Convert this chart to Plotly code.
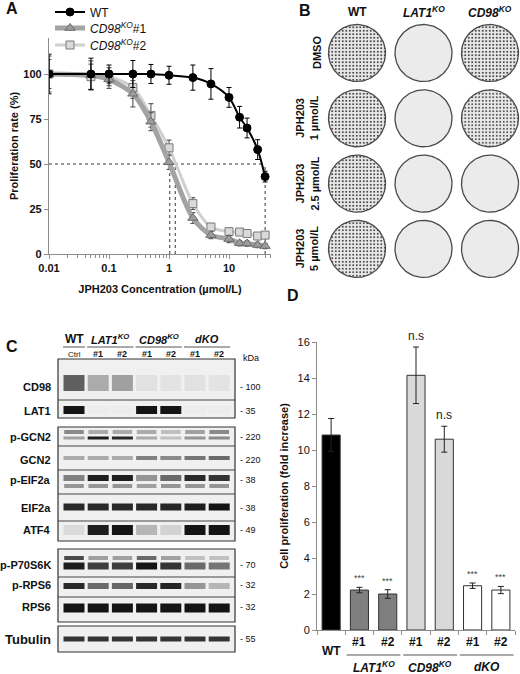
import numpy as np
import plotly.graph_objects as go

FONT = "Liberation Sans, Arial, sans-serif"
W, H = 520, 674

# ---- panel A : dose response ----
conc = [0.01, 0.05, 0.1, 0.25, 0.5, 1, 2.5, 5, 10, 15, 20, 30, 40]
wt_mean = [100, 100, 100, 100, 100, 99.3, 98, 94.5, 87, 76, 70, 58, 43]
wt_err = [11, 8.8, 5, 7.5, 5.3, 5, 7, 8.5, 5.5, 6, 5.5, 5.5, 3]
ko1_mean = [100, 99.3, 97, 89, 73.5, 51, 20, 10.5, 8.3, 6, 5.8, 5, 4.4]
ko1_err = [10, 8, 5, 7.3, 5, 4, 3, 2, 2, 1.5, 1.5, 1.5, 1.5]
ko2_mean = [100, 98.5, 98.5, 92.5, 77, 59, 28, 15, 12.4, 12.2, 11.4, 10, 10.5]
ko2_err = [8, 7, 5, 6, 6.5, 4.3, 3.3, 2, 2, 1.5, 1.5, 1.5, 1.5]
ic50 = [40, 1.03, 1.27]

# ---- panel B : colony plates ----
b_cols = ["WT", "LAT1", "CD98"]
b_rows = ["DMSO", "JPH203<br>1 µmol/L", "JPH203<br>2.5 µmol/L", "JPH203<br>5 µmol/L"]
b_density = [[1.0, 0.0, 1.0],
             [1.0, 0.0, 0.85],
             [1.0, 0.0, 0.0],
             [0.9, 0.0, 0.0]]

# ---- panel C : western blots ----
c_groups = ["WT", "LAT1", "CD98", "dKO"]
c_lanes = ["Ctrl", "#1", "#2", "#1", "#2", "#1", "#2"]
c_proteins = ["CD98", "LAT1", "p-GCN2", "GCN2", "p-EIF2a", "EIF2a", "ATF4",
              "p-P70S6K", "p-RPS6", "RPS6", "Tubulin"]
c_kda = ["100", "35", "220", "220", "38", "38", "49", "70", "32", "32", "55"]
c_band = [
    [0.65, 0.3, 0.35, 0.05, 0.04, 0.05, 0.04],   # CD98
    [1.0, 0.0, 0.0, 1.0, 1.0, 0.0, 0.0],         # LAT1
    [0.35, 0.95, 0.9, 0.3, 0.2, 0.4, 0.45],      # p-GCN2
    [0.3, 0.3, 0.3, 0.5, 0.45, 0.55, 0.6],       # GCN2
    [0.5, 0.95, 0.95, 0.4, 0.6, 0.9, 0.85],      # p-EIF2a
    [0.9, 0.9, 0.9, 0.9, 0.92, 0.95, 1.0],       # EIF2a
    [0.08, 0.95, 1.0, 0.25, 0.12, 1.0, 1.0],     # ATF4
    [0.95, 0.8, 0.8, 1.0, 0.85, 0.6, 0.55],      # p-P70S6K
    [0.9, 0.6, 0.62, 0.9, 0.92, 0.4, 0.25],      # p-RPS6
    [1.0, 1.0, 1.0, 1.0, 1.0, 1.0, 1.0],         # RPS6
    [0.85, 0.85, 0.85, 0.85, 0.85, 0.85, 0.85],  # Tubulin
]
c_band2 = {
    "p-GCN2": [0.45, 0.3, 0.3, 0.3, 0.2, 0.35, 0.45],
    "p-EIF2a": [0.4, 0.4, 0.4, 0.35, 0.4, 0.4, 0.4],
    "p-P70S6K": [0.75, 0.35, 0.35, 0.6, 0.35, 0.2, 0.2],
}

# ---- panel D : proliferation bars ----
d_labels = ["WT", "#1", "#2", "#1", "#2", "#1", "#2"]
d_mean = [10.83, 2.22, 2.0, 14.15, 10.6, 2.46, 2.22]
d_err = [0.92, 0.15, 0.24, 1.57, 0.72, 0.15, 0.2]
d_sig = ["", "***", "***", "n.s", "n.s", "***", "***"]
d_groups = ["LAT1", "CD98", "dKO"]


def px(x):
    return x / W


def py(y):
    return 1 - y / H


def ko(name):
    return "<b><i>%s<sup>KO</sup></i></b>" % name


annotations = []
shapes = []


def note(x, y, text, size=11, xref="paper", yref="paper", **kw):
    d = dict(x=x, y=y, xref=xref, yref=yref, text=text, showarrow=False,
             xanchor="center", yanchor="middle", font=dict(size=size))
    d.update(kw)
    annotations.append(d)


fig = go.Figure()
AX = "#8c8c8c"

# panel A traces
series = [
    ("WT", wt_mean, wt_err, "#000000", 2, "circle", 8, "#000000", "#000000"),
    ("<i>CD98<sup>KO</sup></i>#1", ko1_mean, ko1_err, "#a3a3a3", 5, "triangle-up", 9, "#9c9c9c", "#6a6a6a"),
    ("<i>CD98<sup>KO</sup></i>#2", ko2_mean, ko2_err, "#d0d0d0", 3, "square", 8, "#d9d9d9", "#7a7a7a"),
]
legends = ["legend", "legend2", "legend3"]
# dashed guides first so they sit below
fig.add_trace(go.Scatter(x=[conc[0], ic50[0]], y=[50, 50], mode="lines",
                         line=dict(color="#333", width=1, dash="dot"),
                         showlegend=False, hoverinfo="skip"))
for v in ic50:
    fig.add_trace(go.Scatter(x=[v, v], y=[0, 50], mode="lines",
                             line=dict(color="#333", width=1, dash="dot"),
                             showlegend=False, hoverinfo="skip"))
for k in reversed(range(len(series))):
    name, m, e, lc, lw, sym, sz, fc, oc = series[k]
    fig.add_trace(go.Scatter(
        x=conc, y=m, name=name, mode="lines+markers", legend=legends[k],
        line=dict(color=lc, width=lw, shape="spline", smoothing=0.8),
        marker=dict(symbol=sym, size=sz, color=fc, line=dict(color=oc, width=1)),
        error_y=dict(type="data", array=e, color="#444" if sym != "circle" else "#000",
                     thickness=1, width=2.5),
    ))

# panel B plates
theta = np.linspace(0, 2 * np.pi, 90)
R = 28.5
for i, row in enumerate(b_rows):
    for j, col in enumerate(b_cols):
        cx = 357 + 66.5 * j
        cy = 53 + 65.3 * i
        d = b_density[i][j]
        kw = dict(fill="toself", fillcolor="#ebebeb")
        if d > 0:
            kw = dict(fill="toself",
                      fillpattern=dict(shape=".", size=3.5, solidity=0.24 * d,
                                       fgcolor="#262626", bgcolor="#e8e8e8",
                                       fillmode="replace"))
        fig.add_trace(go.Scatter(
            x=cx + R * np.cos(theta), y=cy + R * np.sin(theta),
            mode="lines", line=dict(color="#4a4a4a", width=1.3),
            xaxis="x3", yaxis="y3", showlegend=False, hoverinfo="skip", **kw))

# panel C blots
lane_x = [74 + 24.2 * k for k in range(len(c_lanes))]
row_y = [383, 410, 438, 458, 478, 507, 530, 566, 586, 608, 639]
thick = [16, 8, 3, 4, 6, 7, 10, 7, 6, 9, 5]
off2 = {"p-GCN2": -6, "p-EIF2a": 8, "p-P70S6K": -8}


def gray(v):
    g = int(236 - 216 * v)
    return "rgb(%d,%d,%d)" % (g, g, g)


for r, prot in enumerate(c_proteins):
    if prot in c_band2:
        fig.add_trace(go.Scatter(
            x=lane_x, y=[row_y[r] + off2[prot]] * len(lane_x), mode="markers",
            marker=dict(symbol="line-ew", size=14,
                        line=dict(color=[gray(v) for v in c_band2[prot]], width=4)),
            xaxis="x4", yaxis="y4", showlegend=False, hoverinfo="skip"))
    fig.add_trace(go.Scatter(
        x=lane_x, y=[row_y[r]] * len(lane_x), mode="markers",
        marker=dict(symbol="line-ew", size=15,
                    line=dict(color=[gray(v) for v in c_band[r]], width=thick[r])),
        xaxis="x4", yaxis="y4", showlegend=False, hoverinfo="skip"))

# panel D bars
d_x = list(range(len(d_labels)))
d_colors = ["#000000", "#7f7f7f", "#7f7f7f", "#d9d9d9", "#d9d9d9", "#ffffff", "#ffffff"]
fig.add_trace(go.Bar(
    x=d_x, y=d_mean, width=0.64,
    marker=dict(color=d_colors, line=dict(color="#333", width=1)),
    error_y=dict(type="data", array=d_err, color="#222", thickness=1, width=3),
    xaxis="x2", yaxis="y2", showlegend=False))

# blot frames
boxes = [(359, 418), (427, 541), (549, 622), (626, 652)]
for y0, y1 in boxes:
    shapes.append(dict(type="rect", xref="x4", yref="y4", x0=58, x1=235, y0=y0, y1=y1,
                       line=dict(color="#333", width=1.2), fillcolor="#f0f0f0", layer="below"))
for yd in [400, 446, 470, 494, 521, 577, 597]:
    shapes.append(dict(type="line", xref="x4", yref="y4", x0=58, x1=235, y0=yd, y1=yd,
                       line=dict(color="#444", width=1)))

label_y = [387, 411, 437, 460, 480, 508, 530, 565, 585, 607, 639]
for r, prot in enumerate(c_proteins):
    note(px(53), py(label_y[r]), "<b>%s</b>" % prot, 13 if prot == "Tubulin" else 11,
         xanchor="right")
    note(px(238), py(label_y[r]), "- %s" % c_kda[r], 9, xanchor="left")
note(px(241), py(358), "kDa", 9, xanchor="left")
for k, ln in enumerate(c_lanes):
    note(px(lane_x[k]), py(354), ln if k == 0 else "<b>%s</b>" % ln, 8 if k == 0 else 9)
group_span = [(0, 0), (1, 2), (3, 4), (5, 6)]
for g, (a, b) in zip(c_groups, group_span):
    txt = "<b>WT</b>" if g == "WT" else ("<b><i>dKO</i></b>" if g == "dKO" else ko(g))
    note(px((lane_x[a] + lane_x[b]) / 2), py(339), txt, 12 if g == "WT" else 11)
    shapes.append(dict(type="line", xref="paper", yref="paper",
                       x0=px(lane_x[a] - 11), x1=px(lane_x[b] + 11), y0=py(347), y1=py(347),
                       line=dict(color="#555", width=1)))

# plate labels
for j, col in enumerate(b_cols):
    note(px(357 + 66.5 * j), py(12), "<b>WT</b>" if col == "WT" else ko(col), 12)
for i, row in enumerate(b_rows):
    note(px(317 if i == 0 else 307), py(53 + 65.3 * i), "<b>%s</b>" % row, 11,
         textangle=-90)

# D annotations
for i, s in enumerate(d_sig):
    if s:
        note(i, d_mean[i] + d_err[i], s, 9 if s == "***" else 12, xref="x2", yref="y2",
             yanchor="bottom", yshift=2,
             font=dict(size=9 if s == "***" else 12, color="#444" if s == "***" else "#222"))
for i, lab in enumerate(d_labels):
    note(i, py(651 if lab == "WT" else 642), "<b>%s</b>" % lab, 12, xref="x2")
for gi, g in enumerate(d_groups):
    c = 1.5 + 2 * gi
    note(c, py(667), "<b><i>dKO</i></b>" if g == "dKO" else ko(g), 12, xref="x2")
    shapes.append(dict(type="line", xref="x2", yref="paper", x0=c - 0.95, x1=c + 0.95,
                       y0=py(655), y1=py(655), line=dict(color="#555", width=1)))

for letter, x, y in [("A", 12, 9), ("B", 305, 11), ("C", 12, 347), ("D", 293, 295)]:
    note(px(x), py(y), "<b>%s</b>" % letter, 16)

minor_vals = [m * 10.0 ** e for e in range(-2, 2) for m in range(2, 10)]
leg_y = [12, 28, 45]
leg = {}
for k, key in enumerate(legends):
    leg[key] = dict(x=px(50), y=py(leg_y[k]), xanchor="left", yanchor="middle",
                    font=dict(size=12), bgcolor="rgba(0,0,0,0)", itemwidth=30,
                    borderwidth=0)

fig.update_layout(
    template="none",
    width=W, height=H, margin=dict(l=0, r=0, t=0, b=0, pad=0, autoexpand=False),
    paper_bgcolor="white", plot_bgcolor="rgba(0,0,0,0)",
    font=dict(family=FONT, color="#111", size=11),
    shapes=shapes, annotations=annotations, showlegend=True,
    **leg,
    xaxis=dict(domain=[px(49), px(271)], type="log", range=[-2, 1.7], automargin=False,
               tickvals=[0.01, 0.1, 1, 10], ticktext=["<b>0.01</b>", "<b>0.1</b>", "<b>1</b>", "<b>10</b>"],
               ticks="outside", ticklen=4, tickcolor=AX, showline=True, linecolor=AX,
               linewidth=1.2, showgrid=False, zeroline=False,
               minor=dict(tickvals=minor_vals, ticks="outside", ticklen=3, tickcolor=AX),
               title=dict(text="<b>JPH203 Concentration (µmol/L)</b>", font=dict(size=11), standoff=12),
               anchor="y", tickfont=dict(size=11)),
    yaxis=dict(domain=[py(254), py(38)], range=[0, 120], automargin=False,
               tickvals=[0, 25, 50, 75, 100], ticktext=["<b>0</b>", "<b>25</b>", "<b>50</b>", "<b>75</b>", "<b>100</b>"],
               ticks="outside", ticklen=4, tickcolor=AX, showline=True, linecolor=AX,
               linewidth=1.2, showgrid=False, zeroline=False,
               title=dict(text="<b>Proliferation rate (%)</b>", font=dict(size=11), standoff=2),
               anchor="x", tickfont=dict(size=11)),
    xaxis2=dict(domain=[px(317), px(515)], range=[-0.5, 6.5], anchor="y2", automargin=False,
                tickvals=[k - 0.5 for k in range(8)], showticklabels=False,
                ticks="outside", ticklen=4, tickcolor=AX, showline=True, linecolor=AX,
                showgrid=False, zeroline=False),
    yaxis2=dict(domain=[py(630), py(342)], range=[0, 16], dtick=2, anchor="x2", automargin=False,
                ticks="outside", ticklen=4, tickcolor=AX, showline=True, linecolor=AX,
                showgrid=False, zeroline=False, tickfont=dict(size=11),
                title=dict(text="<b>Cell proliferation (fold increase)</b>", font=dict(size=11),
                           standoff=6)),
    xaxis3=dict(domain=[px(320), 1], range=[320, 520], visible=False, anchor="y3"),
    yaxis3=dict(domain=[py(285), py(22)], range=[285, 22], visible=False, anchor="x3"),
    xaxis4=dict(domain=[0, 0.5], range=[0, 260], visible=False, anchor="y4"),
    yaxis4=dict(domain=[0, py(330)], range=[674, 330], visible=False, anchor="x4"),
)

fig.write_html("out.html", config={"displayModeBar": False},
               post_script="document.body.style.margin='0px';")
